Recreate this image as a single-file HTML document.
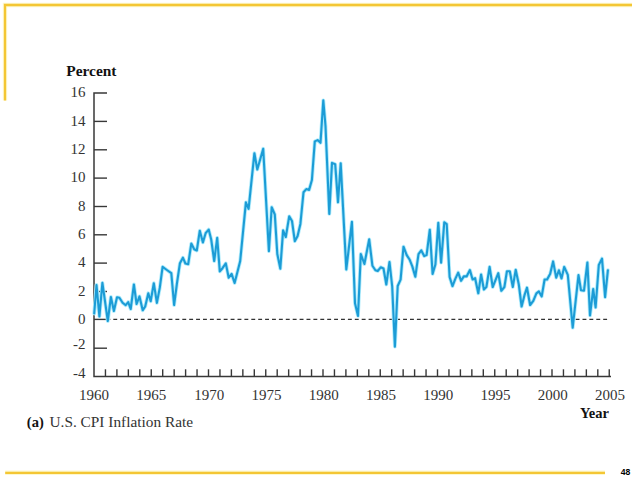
<!DOCTYPE html>
<html><head><meta charset="utf-8"><style>
html,body{margin:0;padding:0;background:#fff;}
svg{display:block;}
.ty{font-family:"Liberation Serif",serif;font-size:15px;fill:#333;}
.t{font-family:"Liberation Serif",serif;font-size:14.5px;fill:#333;}
.t2{font-family:"Liberation Serif",serif;font-size:15px;fill:#333;}
.b{font-family:"Liberation Serif",serif;font-size:14.5px;font-weight:bold;fill:#111;}
.pg{font-family:"Liberation Sans",sans-serif;font-size:8.6px;font-weight:bold;fill:#000;}
</style></head><body>
<svg width="638" height="478" viewBox="0 0 638 478">
<path d="M5 100.4 L5 5 L632 5" fill="none" stroke="#fdf8cf" stroke-width="4.4"/>
<line x1="5.2" y1="472.8" x2="605" y2="472.8" stroke="#fdf8cf" stroke-width="4.4"/>
<path d="M5 100.4 L5 5 L632 5" fill="none" stroke="#f4c634" stroke-width="2.3"/>
<line x1="5.2" y1="472.8" x2="605" y2="472.8" stroke="#f4c634" stroke-width="2.3"/>
<path d="M107 93 L94.0 93 L94.0 376.5 L611 376.5" fill="none" stroke="#383838" stroke-width="1.5"/>
<line x1="94.0" y1="121.4" x2="107" y2="121.4" stroke="#383838" stroke-width="1.4"/>
<line x1="94.0" y1="149.8" x2="107" y2="149.8" stroke="#383838" stroke-width="1.4"/>
<line x1="94.0" y1="178.1" x2="107" y2="178.1" stroke="#383838" stroke-width="1.4"/>
<line x1="94.0" y1="206.5" x2="107" y2="206.5" stroke="#383838" stroke-width="1.4"/>
<line x1="94.0" y1="234.8" x2="107" y2="234.8" stroke="#383838" stroke-width="1.4"/>
<line x1="94.0" y1="263.1" x2="107" y2="263.1" stroke="#383838" stroke-width="1.4"/>
<line x1="94.0" y1="291.5" x2="107" y2="291.5" stroke="#383838" stroke-width="1.4"/>
<line x1="94.0" y1="319.4" x2="107" y2="319.4" stroke="#383838" stroke-width="1.4"/>
<line x1="94.0" y1="348.2" x2="107" y2="348.2" stroke="#383838" stroke-width="1.4"/>
<line x1="105.45" y1="369.3" x2="105.45" y2="376.5" stroke="#383838" stroke-width="1.4"/>
<line x1="116.90" y1="369.3" x2="116.90" y2="376.5" stroke="#383838" stroke-width="1.4"/>
<line x1="128.35" y1="369.3" x2="128.35" y2="376.5" stroke="#383838" stroke-width="1.4"/>
<line x1="139.80" y1="369.3" x2="139.80" y2="376.5" stroke="#383838" stroke-width="1.4"/>
<line x1="151.25" y1="369.3" x2="151.25" y2="376.5" stroke="#383838" stroke-width="1.4"/>
<line x1="162.70" y1="369.3" x2="162.70" y2="376.5" stroke="#383838" stroke-width="1.4"/>
<line x1="174.15" y1="369.3" x2="174.15" y2="376.5" stroke="#383838" stroke-width="1.4"/>
<line x1="185.60" y1="369.3" x2="185.60" y2="376.5" stroke="#383838" stroke-width="1.4"/>
<line x1="197.05" y1="369.3" x2="197.05" y2="376.5" stroke="#383838" stroke-width="1.4"/>
<line x1="208.50" y1="369.3" x2="208.50" y2="376.5" stroke="#383838" stroke-width="1.4"/>
<line x1="219.95" y1="369.3" x2="219.95" y2="376.5" stroke="#383838" stroke-width="1.4"/>
<line x1="231.40" y1="369.3" x2="231.40" y2="376.5" stroke="#383838" stroke-width="1.4"/>
<line x1="242.85" y1="369.3" x2="242.85" y2="376.5" stroke="#383838" stroke-width="1.4"/>
<line x1="254.30" y1="369.3" x2="254.30" y2="376.5" stroke="#383838" stroke-width="1.4"/>
<line x1="265.75" y1="369.3" x2="265.75" y2="376.5" stroke="#383838" stroke-width="1.4"/>
<line x1="277.20" y1="369.3" x2="277.20" y2="376.5" stroke="#383838" stroke-width="1.4"/>
<line x1="288.65" y1="369.3" x2="288.65" y2="376.5" stroke="#383838" stroke-width="1.4"/>
<line x1="300.10" y1="369.3" x2="300.10" y2="376.5" stroke="#383838" stroke-width="1.4"/>
<line x1="311.55" y1="369.3" x2="311.55" y2="376.5" stroke="#383838" stroke-width="1.4"/>
<line x1="323.00" y1="369.3" x2="323.00" y2="376.5" stroke="#383838" stroke-width="1.4"/>
<line x1="334.45" y1="369.3" x2="334.45" y2="376.5" stroke="#383838" stroke-width="1.4"/>
<line x1="345.90" y1="369.3" x2="345.90" y2="376.5" stroke="#383838" stroke-width="1.4"/>
<line x1="357.35" y1="369.3" x2="357.35" y2="376.5" stroke="#383838" stroke-width="1.4"/>
<line x1="368.80" y1="369.3" x2="368.80" y2="376.5" stroke="#383838" stroke-width="1.4"/>
<line x1="380.25" y1="369.3" x2="380.25" y2="376.5" stroke="#383838" stroke-width="1.4"/>
<line x1="391.70" y1="369.3" x2="391.70" y2="376.5" stroke="#383838" stroke-width="1.4"/>
<line x1="403.15" y1="369.3" x2="403.15" y2="376.5" stroke="#383838" stroke-width="1.4"/>
<line x1="414.60" y1="369.3" x2="414.60" y2="376.5" stroke="#383838" stroke-width="1.4"/>
<line x1="426.05" y1="369.3" x2="426.05" y2="376.5" stroke="#383838" stroke-width="1.4"/>
<line x1="437.50" y1="369.3" x2="437.50" y2="376.5" stroke="#383838" stroke-width="1.4"/>
<line x1="448.95" y1="369.3" x2="448.95" y2="376.5" stroke="#383838" stroke-width="1.4"/>
<line x1="460.40" y1="369.3" x2="460.40" y2="376.5" stroke="#383838" stroke-width="1.4"/>
<line x1="471.85" y1="369.3" x2="471.85" y2="376.5" stroke="#383838" stroke-width="1.4"/>
<line x1="483.30" y1="369.3" x2="483.30" y2="376.5" stroke="#383838" stroke-width="1.4"/>
<line x1="494.75" y1="369.3" x2="494.75" y2="376.5" stroke="#383838" stroke-width="1.4"/>
<line x1="506.20" y1="369.3" x2="506.20" y2="376.5" stroke="#383838" stroke-width="1.4"/>
<line x1="517.65" y1="369.3" x2="517.65" y2="376.5" stroke="#383838" stroke-width="1.4"/>
<line x1="529.10" y1="369.3" x2="529.10" y2="376.5" stroke="#383838" stroke-width="1.4"/>
<line x1="540.55" y1="369.3" x2="540.55" y2="376.5" stroke="#383838" stroke-width="1.4"/>
<line x1="552.00" y1="369.3" x2="552.00" y2="376.5" stroke="#383838" stroke-width="1.4"/>
<line x1="563.45" y1="369.3" x2="563.45" y2="376.5" stroke="#383838" stroke-width="1.4"/>
<line x1="574.90" y1="369.3" x2="574.90" y2="376.5" stroke="#383838" stroke-width="1.4"/>
<line x1="586.35" y1="369.3" x2="586.35" y2="376.5" stroke="#383838" stroke-width="1.4"/>
<line x1="597.80" y1="369.3" x2="597.80" y2="376.5" stroke="#383838" stroke-width="1.4"/>
<line x1="609.25" y1="369.3" x2="609.25" y2="376.5" stroke="#383838" stroke-width="1.4"/>
<line x1="106.4" y1="319.4" x2="607.3" y2="319.4" stroke="#333" stroke-width="1.4" stroke-dasharray="3.9 3.0"/>
<text x="85.5" y="97.4" text-anchor="end" class="ty">16</text>
<text x="85.5" y="125.7" text-anchor="end" class="ty">14</text>
<text x="85.5" y="154.1" text-anchor="end" class="ty">12</text>
<text x="85.5" y="182.4" text-anchor="end" class="ty">10</text>
<text x="85.5" y="210.8" text-anchor="end" class="ty">8</text>
<text x="85.5" y="239.1" text-anchor="end" class="ty">6</text>
<text x="85.5" y="267.4" text-anchor="end" class="ty">4</text>
<text x="85.5" y="295.8" text-anchor="end" class="ty">2</text>
<text x="85.5" y="324.1" text-anchor="end" class="ty">0</text>
<text x="85.5" y="349.2" text-anchor="end" class="ty">-2</text>
<text x="85.5" y="377.5" text-anchor="end" class="ty">-4</text>
<text x="94.0" y="399.8" text-anchor="middle" class="ty">1960</text>
<text x="151.2" y="399.8" text-anchor="middle" class="ty">1965</text>
<text x="209.3" y="399.8" text-anchor="middle" class="ty">1970</text>
<text x="266.6" y="399.8" text-anchor="middle" class="ty">1975</text>
<text x="323.8" y="399.8" text-anchor="middle" class="ty">1980</text>
<text x="381.1" y="399.8" text-anchor="middle" class="ty">1985</text>
<text x="438.3" y="399.8" text-anchor="middle" class="ty">1990</text>
<text x="495.6" y="399.8" text-anchor="middle" class="ty">1995</text>
<text x="552.8" y="399.8" text-anchor="middle" class="ty">2000</text>
<text x="610.0" y="399.8" text-anchor="middle" class="ty">2005</text>
<text x="66.3" y="75.8" class="b" textLength="50.2" lengthAdjust="spacingAndGlyphs">Percent</text>
<text x="609" y="418.2" text-anchor="end" class="b">Year</text>
<text x="26.8" y="427" class="b">(a)</text>
<text x="49.5" y="427" class="t2" textLength="143.5" lengthAdjust="spacingAndGlyphs">U.S. CPI Inflation Rate</text>
<text x="630.2" y="474.9" text-anchor="end" class="pg">48</text>
<path d="M94.2 313.5 L96.5 285.0 L99.4 316.4 L102.4 282.9 L107.8 321.0 L110.9 297.0 L113.9 311.0 L117.0 297.3 L119.4 297.7 L122.6 302.7 L125.7 305.2 L128.2 302.1 L130.7 309.0 L133.9 284.5 L136.6 304.0 L139.5 296.4 L142.7 310.3 L145.2 306.5 L148.3 293.3 L150.7 301.2 L153.8 283.2 L156.9 302.9 L159.8 287.6 L162.6 266.9 L166.9 270.0 L171.3 273.1 L174.1 305.0 L177.0 283.0 L179.9 263.3 L182.9 257.7 L185.4 263.5 L188.2 264.2 L191.3 243.6 L194.2 249.2 L196.8 250.5 L199.8 230.7 L202.9 242.4 L205.7 233.0 L208.7 229.6 L211.2 239.5 L214.2 261.0 L217.2 237.8 L219.8 271.4 L222.5 268.2 L225.8 263.4 L228.7 277.7 L231.6 273.9 L234.6 283.0 L237.3 272.6 L240.2 261.0 L245.9 202.3 L248.6 208.9 L254.4 153.2 L257.3 169.5 L263.2 148.8 L268.9 251.2 L271.7 207.2 L274.8 214.5 L277.3 254.0 L280.3 268.6 L283.1 230.4 L285.8 237.0 L289.2 216.3 L292.0 221.0 L294.8 241.2 L297.6 236.0 L300.4 223.9 L303.5 192.3 L306.3 189.1 L309.1 189.9 L311.9 180.0 L314.8 141.4 L317.6 140.1 L320.5 142.8 L323.3 100.3 L325.5 126.0 L329.3 213.9 L332.0 162.9 L335.2 164.2 L338.0 202.3 L340.7 163.4 L346.3 269.5 L351.9 221.9 L355.0 303.3 L358.0 315.9 L360.8 254.0 L364.4 264.0 L369.2 239.3 L372.4 265.7 L375.4 270.3 L377.7 271.0 L380.7 267.3 L383.5 268.5 L386.3 284.5 L389.5 262.0 L392.2 286.5 L394.9 346.7 L397.7 286.0 L400.6 279.6 L403.5 246.7 L406.7 255.1 L409.7 259.8 L412.3 266.4 L415.3 276.8 L418.5 254.2 L421.3 250.4 L424.2 256.1 L426.6 255.1 L429.8 229.7 L432.6 273.9 L435.4 264.5 L438.3 222.8 L441.1 262.7 L444.3 222.2 L446.7 224.1 L449.6 277.0 L452.5 286.1 L455.3 278.9 L458.2 272.6 L461.1 280.8 L463.8 276.4 L466.6 276.4 L469.9 270.1 L472.6 279.5 L475.1 278.2 L478.3 293.3 L481.1 274.5 L483.9 289.5 L486.4 287.0 L489.6 266.9 L492.7 287.0 L495.2 280.8 L498.3 273.2 L501.3 290.8 L504.4 287.0 L506.9 271.3 L509.8 271.3 L512.8 287.0 L515.7 269.8 L518.8 284.5 L521.6 306.5 L524.5 295.2 L527.0 287.7 L530.1 305.0 L533.3 300.8 L536.4 293.3 L538.9 291.4 L541.7 296.4 L544.6 279.5 L547.1 279.5 L550.2 273.8 L553.1 261.4 L556.2 277.6 L558.9 270.3 L561.5 278.4 L564.2 266.9 L567.8 274.9 L572.7 327.7 L578.5 275.1 L581.0 290.3 L584.0 290.6 L587.4 262.5 L590.0 315.4 L593.2 289.0 L595.6 307.4 L598.8 265.0 L602.0 258.6 L605.1 297.1 L607.9 270.2" fill="none" stroke="#b0ecfc" stroke-width="3.8" stroke-linejoin="round" stroke-linecap="round"/>
<path d="M94.2 313.5 L96.5 285.0 L99.4 316.4 L102.4 282.9 L107.8 321.0 L110.9 297.0 L113.9 311.0 L117.0 297.3 L119.4 297.7 L122.6 302.7 L125.7 305.2 L128.2 302.1 L130.7 309.0 L133.9 284.5 L136.6 304.0 L139.5 296.4 L142.7 310.3 L145.2 306.5 L148.3 293.3 L150.7 301.2 L153.8 283.2 L156.9 302.9 L159.8 287.6 L162.6 266.9 L166.9 270.0 L171.3 273.1 L174.1 305.0 L177.0 283.0 L179.9 263.3 L182.9 257.7 L185.4 263.5 L188.2 264.2 L191.3 243.6 L194.2 249.2 L196.8 250.5 L199.8 230.7 L202.9 242.4 L205.7 233.0 L208.7 229.6 L211.2 239.5 L214.2 261.0 L217.2 237.8 L219.8 271.4 L222.5 268.2 L225.8 263.4 L228.7 277.7 L231.6 273.9 L234.6 283.0 L237.3 272.6 L240.2 261.0 L245.9 202.3 L248.6 208.9 L254.4 153.2 L257.3 169.5 L263.2 148.8 L268.9 251.2 L271.7 207.2 L274.8 214.5 L277.3 254.0 L280.3 268.6 L283.1 230.4 L285.8 237.0 L289.2 216.3 L292.0 221.0 L294.8 241.2 L297.6 236.0 L300.4 223.9 L303.5 192.3 L306.3 189.1 L309.1 189.9 L311.9 180.0 L314.8 141.4 L317.6 140.1 L320.5 142.8 L323.3 100.3 L325.5 126.0 L329.3 213.9 L332.0 162.9 L335.2 164.2 L338.0 202.3 L340.7 163.4 L346.3 269.5 L351.9 221.9 L355.0 303.3 L358.0 315.9 L360.8 254.0 L364.4 264.0 L369.2 239.3 L372.4 265.7 L375.4 270.3 L377.7 271.0 L380.7 267.3 L383.5 268.5 L386.3 284.5 L389.5 262.0 L392.2 286.5 L394.9 346.7 L397.7 286.0 L400.6 279.6 L403.5 246.7 L406.7 255.1 L409.7 259.8 L412.3 266.4 L415.3 276.8 L418.5 254.2 L421.3 250.4 L424.2 256.1 L426.6 255.1 L429.8 229.7 L432.6 273.9 L435.4 264.5 L438.3 222.8 L441.1 262.7 L444.3 222.2 L446.7 224.1 L449.6 277.0 L452.5 286.1 L455.3 278.9 L458.2 272.6 L461.1 280.8 L463.8 276.4 L466.6 276.4 L469.9 270.1 L472.6 279.5 L475.1 278.2 L478.3 293.3 L481.1 274.5 L483.9 289.5 L486.4 287.0 L489.6 266.9 L492.7 287.0 L495.2 280.8 L498.3 273.2 L501.3 290.8 L504.4 287.0 L506.9 271.3 L509.8 271.3 L512.8 287.0 L515.7 269.8 L518.8 284.5 L521.6 306.5 L524.5 295.2 L527.0 287.7 L530.1 305.0 L533.3 300.8 L536.4 293.3 L538.9 291.4 L541.7 296.4 L544.6 279.5 L547.1 279.5 L550.2 273.8 L553.1 261.4 L556.2 277.6 L558.9 270.3 L561.5 278.4 L564.2 266.9 L567.8 274.9 L572.7 327.7 L578.5 275.1 L581.0 290.3 L584.0 290.6 L587.4 262.5 L590.0 315.4 L593.2 289.0 L595.6 307.4 L598.8 265.0 L602.0 258.6 L605.1 297.1 L607.9 270.2" fill="none" stroke="#1c9cd6" stroke-width="2.1" stroke-linejoin="round" stroke-linecap="round"/>
</svg>
</body></html>
